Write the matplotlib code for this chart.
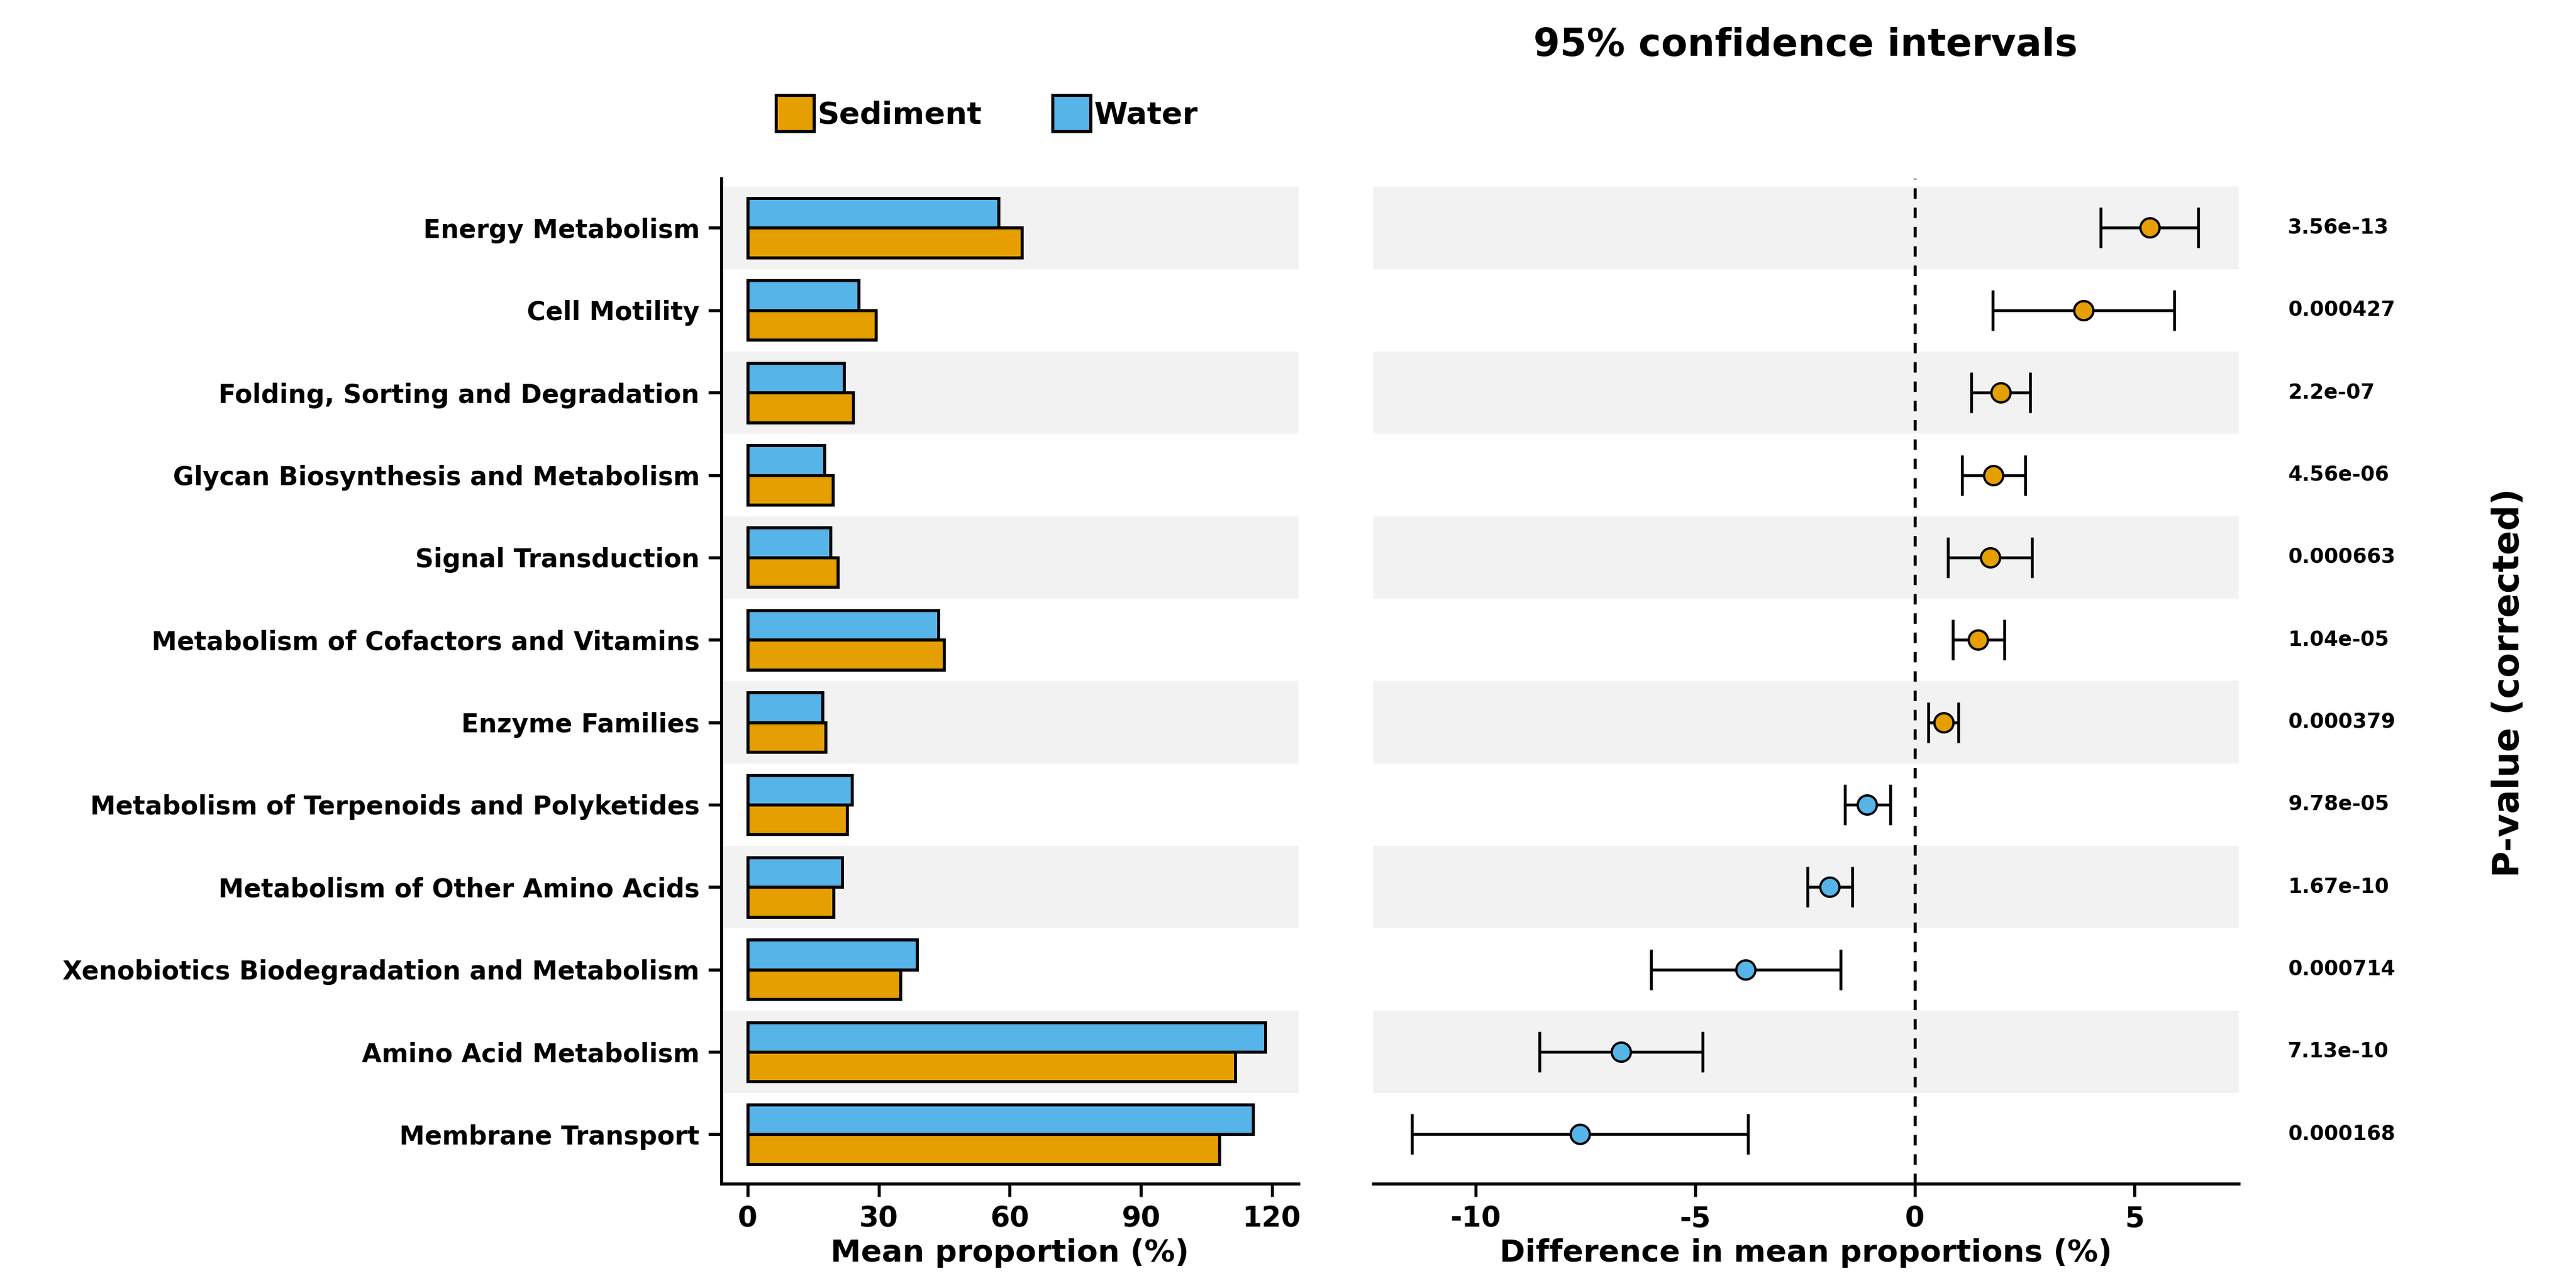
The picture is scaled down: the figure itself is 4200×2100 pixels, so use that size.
import matplotlib.pyplot as plt
from matplotlib.patches import Patch
import matplotlib.transforms as mtransforms

# data (top to bottom)
categories = ['Energy Metabolism', 'Cell Motility', 'Folding, Sorting and Degradation',
              'Glycan Biosynthesis and Metabolism', 'Signal Transduction',
              'Metabolism of Cofactors and Vitamins', 'Enzyme Families',
              'Metabolism of Terpenoids and Polyketides', 'Metabolism of Other Amino Acids',
              'Xenobiotics Biodegradation and Metabolism', 'Amino Acid Metabolism',
              'Membrane Transport']
sediment = [62.8, 29.3, 24.1, 19.6, 20.7, 45.0, 17.8, 22.8, 19.7, 34.9, 111.6, 107.9]
water = [57.4, 25.4, 22.1, 17.6, 19.0, 43.6, 17.2, 23.9, 21.7, 38.8, 118.4, 115.6]
diff = [5.35, 3.84, 1.95, 1.79, 1.71, 1.44, 0.65, -1.09, -1.95, -3.86, -6.69, -7.63]
ci_low = [4.23, 1.77, 1.28, 1.08, 0.75, 0.86, 0.30, -1.60, -2.45, -6.01, -8.55, -11.45]
ci_high = [6.45, 5.91, 2.63, 2.51, 2.66, 2.04, 0.99, -0.56, -1.42, -1.69, -4.83, -3.80]
pvalues = ['3.56e-13', '0.000427', '2.2e-07', '4.56e-06', '0.000663', '1.04e-05',
           '0.000379', '9.78e-05', '1.67e-10', '0.000714', '7.13e-10', '0.000168']

c_sed = '#E69F00'
c_wat = '#56B4E9'

plt.rcParams['font.family'] = 'DejaVu Sans'
plt.rcParams['font.weight'] = 'bold'
plt.rcParams['axes.unicode_minus'] = False

fig = plt.figure(figsize=(14, 7), dpi=300)
ax1 = fig.add_axes([0.280, 0.081, 0.224, 0.7805])
ax2 = fig.add_axes([0.533, 0.081, 0.336, 0.7805])

n = len(categories)
ypos = [n - 1 - i for i in range(n)]
h = 0.36

# background stripes
for i, y in enumerate(ypos):
    if i % 2 == 0:
        for ax in (ax1, ax2):
            ax.axhspan(y - 0.5, y + 0.5, color='#f2f2f2', zorder=0, lw=0)

# bar plot
ax1.barh([y + h / 2 for y in ypos], water, height=h, color=c_wat, edgecolor='black', linewidth=1.2, zorder=2)
ax1.barh([y - h / 2 for y in ypos], sediment, height=h, color=c_sed, edgecolor='black', linewidth=1.2, zorder=2)
ax1.set_xlim(-6, 126)
ax1.set_ylim(-0.6, n - 0.4)
ax1.set_xticks([0, 30, 60, 90, 120])
ax1.set_yticks(ypos)
ax1.set_yticklabels(categories, fontsize=10, fontweight='bold')
ax1.set_xlabel('Mean proportion (%)', fontsize=12, fontweight='bold', labelpad=2)
ax1.spines['top'].set_visible(False)
ax1.spines['right'].set_visible(False)
for s in ('left', 'bottom'):
    ax1.spines[s].set_linewidth(1.2)
ax1.tick_params(axis='both', width=1.2, length=5)
ax1.tick_params(axis='x', labelsize=11)

# confidence intervals
pt_colors = [c_sed if d > 0 else c_wat for d in diff]
for y, d, lo, hi, c in zip(ypos, diff, ci_low, ci_high, pt_colors):
    ax2.errorbar(d, y, xerr=[[d - lo], [hi - d]], fmt='none', ecolor='black',
                 elinewidth=1.1, capsize=8, capthick=1.1, zorder=3)
    ax2.plot(d, y, 'o', markersize=7.5, markerfacecolor=c, markeredgecolor='black',
             markeredgewidth=0.9, zorder=4)
ax2.axvline(0, color='black', linestyle=(0, (3.4, 2.9)), linewidth=1.2, zorder=2)
ax2.set_xlim(-12.34, 7.37)
ax2.set_ylim(-0.6, n - 0.4)
ax2.set_yticks([])
ax2.set_xticks([-10, -5, 0, 5])
ax2.tick_params(axis='x', width=1.2, length=5, labelsize=11)
ax2.set_xlabel('Difference in mean proportions (%)', fontsize=12, fontweight='bold', labelpad=2)
for s in ('top', 'right', 'left'):
    ax2.spines[s].set_visible(False)
ax2.spines['bottom'].set_linewidth(1.2)

# p-values
trans = mtransforms.blended_transform_factory(ax2.transAxes, ax2.transData)
for y, p in zip(ypos, pvalues):
    ax2.text(1.057, y, p, transform=trans, ha='left', va='center', fontsize=8, fontweight='bold')

fig.text(0.974, 0.47, 'P-value (corrected)', rotation=90, ha='center', va='center',
         fontsize=14, fontweight='bold')
fig.text(0.701, 0.965, '95% confidence intervals', ha='center', va='center',
         fontsize=15, fontweight='bold')

# legend
handles = [Patch(facecolor=c_sed, edgecolor='black', linewidth=1.2, label='Sediment'),
           Patch(facecolor=c_wat, edgecolor='black', linewidth=1.2, label='Water')]
fig.legend(handles=handles, loc='center', bbox_to_anchor=(0.383, 0.912), ncol=2, frameon=False,
           handlelength=1.25, handleheight=1.45, handletextpad=0.1, columnspacing=2.3,
           prop={'size': 12, 'weight': 'bold'})

fig.savefig('out.png', dpi=300)
